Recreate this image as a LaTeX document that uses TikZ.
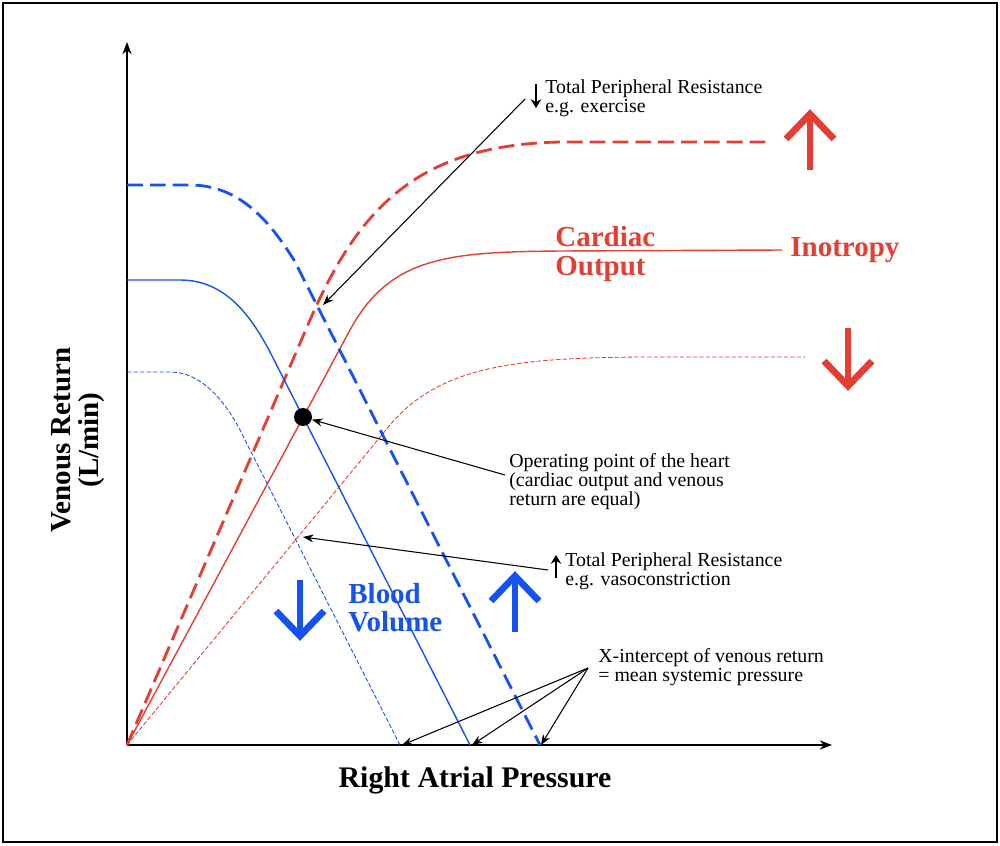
\documentclass[tikz,border=0pt]{standalone}
\usepackage{fontspec}
\setmainfont{Liberation Serif}
\usetikzlibrary{arrows.meta}
\begin{document}
\begin{tikzpicture}[x=0.02cm,y=-0.02cm,
  thickdash/.style={line width=1.6pt,dash pattern=on 9pt off 4pt},
  thindash/.style={line width=0.5pt,dash pattern=on 2.5pt off 1.2pt},
  solidc/.style={line width=0.8pt},
  ann/.style={draw=black,line width=0.6pt,-{Stealth[length=6pt]}},
  small/.style={font=\fontsize{11.3}{11}\selectfont,align=left,anchor=north west,inner sep=0pt},
  big/.style={font=\fontsize{16.5}{16}\selectfont\bfseries,align=left,inner sep=0pt},
  blk/.style={line width=3.8pt,line join=miter}]
\definecolor{cred}{RGB}{228,62,52}
\definecolor{cblue}{RGB}{22,82,240}
\useasboundingbox (0,0) rectangle (1000,845);
\draw[line width=1.5pt] (3,3) rectangle (997,842);
% axes
\coordinate (O) at (127,745);
\coordinate (Ytop) at (127,42);
\coordinate (Xend) at (832,745);
\draw[-{Stealth[length=7pt]},line width=0.6pt] (O)--(Ytop);
\draw[-{Stealth[length=7pt]},line width=0.6pt] (O)--(Xend);
% red curves
\draw[cred,thickdash] (O)--(310,320) .. controls (360,205) and (420,145) .. (560,142) -- (770,142);
\draw[cred,solidc] (O)--(350,330) .. controls (390,256) and (450,252) .. (560,251) -- (782,250);
\draw[cred,thindash] (O)--(390,425) .. controls (440,365) and (520,358) .. (640,357) -- (805,357);
% blue curves
\draw[cblue,thickdash] (127,185)--(190,185) .. controls (240,185) and (270,222) .. (294,260) -- (540,745);
\draw[cblue,solidc] (127,280)--(180,280) .. controls (225,280) and (250,315) .. (269,350) -- (470,745);
\draw[cblue,thindash] (127,372)--(170,372) .. controls (205,372) and (230,408) .. (245,440) -- (400,745);
% operating point
\node[circle,fill=black,minimum size=0.36cm,inner sep=0pt] (op) at (303,417) {};
% labels
\node[small] (tpr1) at (545,79) {Total Peripheral Resistance\\e.g. exercise};
\draw[-{Stealth[length=5pt,width=6pt]},line width=1.3pt] (536,84)--(536,108);
\coordinate (a1) at (525,99);
\draw[ann] (a1)--(323,305);
\node[small] (opt) at (509,453) {Operating point of the heart\\(cardiac output and venous\\return are equal)};
\draw[ann] (505,475)--(op);
\node[small] (tpr2) at (565,552) {Total Peripheral Resistance\\e.g. vasoconstriction};
\draw[-{Stealth[length=5pt,width=6pt]},line width=1.3pt] (556,578)--(556,555);
\coordinate (a2) at (548,570);
\draw[ann] (a2)--(303,537);
\node[small] (xi) at (598,648) {X-intercept of venous return\\= mean systemic pressure};
\coordinate (a3) at (588,668);
\coordinate (i1) at (402,745);
\coordinate (i2) at (472,745);
\coordinate (i3) at (541,745);
\draw[ann] (a3)--(i1);
\draw[ann] (a3)--(i2);
\draw[ann] (a3)--(i3);
\node[big,text=cred,anchor=west] (co) at (555,254) {Cardiac\\Output};
\node[big,text=cred,anchor=west] (ino) at (790,250) {Inotropy};
\node[big,text=cblue,anchor=west] (bv) at (348,608) {Blood\\Volume};
\node[big,rotate=90,align=center] (yl) at (78,440) {Venous Return\\(L/min)};
\node[font=\fontsize{17}{18}\selectfont\bfseries,inner sep=0pt] (xl) at (475,780) {Right Atrial Pressure};
% block arrows
\draw[cred,blk] (810,170)--(810,114); \draw[cred,blk] (786,139)--(810,114)--(834,139);
\draw[cred,blk] (848,328)--(848,386); \draw[cred,blk] (824,361)--(848,386)--(872,361);
\draw[cblue,blk] (300,580)--(300,636); \draw[cblue,blk] (276,611)--(300,636)--(324,611);
\draw[cblue,blk] (515,632)--(515,576); \draw[cblue,blk] (491,601)--(515,576)--(539,601);
\end{tikzpicture}
\end{document}
